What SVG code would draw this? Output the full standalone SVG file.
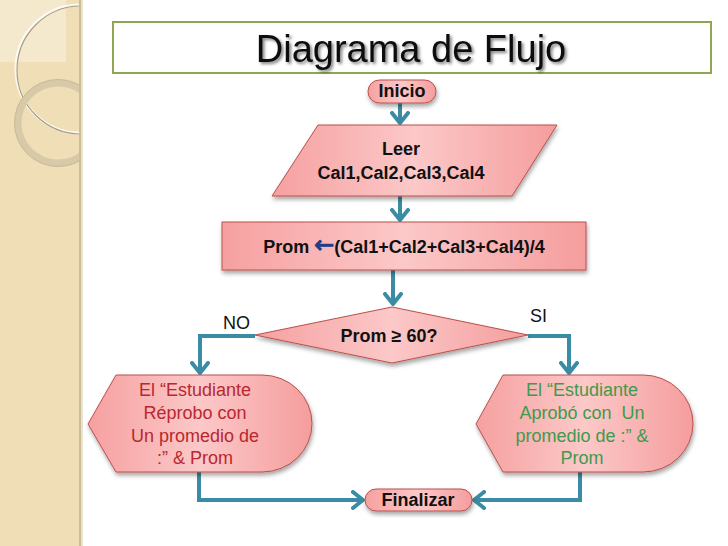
<svg xmlns="http://www.w3.org/2000/svg" width="728" height="546" viewBox="0 0 728 546">
<defs>
  <linearGradient id="pink" x1="0" y1="0" x2="1" y2="0">
    <stop offset="0" stop-color="#f6a0a0"/>
    <stop offset="0.5" stop-color="#fcc8c8"/>
    <stop offset="1" stop-color="#f59d9d"/>
  </linearGradient>
  <filter id="sh" x="-10%" y="-20%" width="120%" height="150%">
    <feDropShadow dx="1" dy="3" stdDeviation="2" flood-color="#000" flood-opacity="0.35"/>
  </filter>
  <filter id="tsh" x="-10%" y="-30%" width="120%" height="160%">
    <feDropShadow dx="2" dy="2" stdDeviation="1.5" flood-color="#000" flood-opacity="0.5"/>
  </filter>
  <clipPath id="strip"><rect x="0" y="0" width="80" height="546"/></clipPath>
  <marker id="ah" viewBox="0 0 14 20" refX="12" refY="10" markerWidth="14" markerHeight="20" markerUnits="userSpaceOnUse" orient="auto">
    <path d="M2,2 L12,10 L2,18" fill="none" stroke="#3a8ba4" stroke-width="4" stroke-linecap="round" stroke-linejoin="round"/>
  </marker>
  <style>
    .shape { fill: url(#pink); stroke: #b9504c; stroke-width: 1; filter: url(#sh); }
    .lbl { font-family: "Liberation Sans", Arial, sans-serif; font-size: 18px; font-weight: bold; fill: #111; text-anchor: middle; }
    .plain { font-family: "Liberation Sans", Arial, sans-serif; font-size: 18px; fill: #111; }
    .red { font-family: "Liberation Sans", Arial, sans-serif; font-size: 18px; fill: #b8282e; text-anchor: middle; }
    .green { font-family: "Liberation Sans", Arial, sans-serif; font-size: 18px; fill: #3f9a4c; text-anchor: middle; }
    .conn { fill: none; stroke: #3a8ba4; stroke-width: 4; marker-end: url(#ah); }
  </style>
</defs>

<rect width="728" height="546" fill="#ffffff"/>

<!-- left decorative strip -->
<g id="sidebar">
  <rect x="0" y="0" width="80" height="546" fill="#efdeb6"/>
  <rect x="0" y="0" width="66" height="62" fill="#f5e9cd"/>
  <g clip-path="url(#strip)">
    <circle cx="80" cy="69" r="64" fill="none" stroke="#ffffff" stroke-width="3" opacity="0.8"/>
    <circle cx="80" cy="69" r="64" fill="none" stroke="#a99c80" stroke-width="1.2" transform="translate(1,1)"/>
    <circle cx="58" cy="123" r="40" fill="none" stroke="#d8caa8" stroke-width="7"/>
    <circle cx="58" cy="123" r="43.5" fill="none" stroke="#c8b994" stroke-width="1"/>
  </g>
  <rect x="79" y="0" width="2" height="546" fill="#cdbd95"/>
  <rect x="81" y="0" width="2" height="546" fill="#e8e2d4"/>
</g>

<g id="title">
  <rect x="113" y="22" width="598" height="51" fill="#ffffff" stroke="#8ea64f" stroke-width="2"/>
  <text x="411" y="62" font-family="'Liberation Sans', Arial, sans-serif" font-size="38" fill="#111" text-anchor="middle" filter="url(#tsh)">Diagrama de Flujo</text>
</g>

<g id="connectors">
  <path class="conn" d="M400,103 V123"/>
  <path class="conn" d="M400,196 V220"/>
  <path class="conn" d="M393,270 V304"/>
  <path class="conn" d="M255,336 H200 V373"/>
  <path class="conn" d="M528,336 H569 V373"/>
  <path class="conn" d="M199,472 V500 H363"/>
  <path class="conn" d="M580,472 V500 H474"/>
</g>

<g id="inicio">
  <rect class="shape" x="368" y="80" width="68" height="23" rx="11.5"/>
  <text class="lbl" x="402" y="97" font-size="17">Inicio</text>
</g>

<g id="leer">
  <polygon class="shape" points="318,125 557,125 512,196 272,196"/>
  <text class="lbl" x="401" y="155">Leer</text>
  <text class="lbl" x="401" y="179">Cal1,Cal2,Cal3,Cal4</text>
</g>

<g id="prom">
  <rect class="shape" x="222" y="222" width="364" height="48"/>
  <text class="lbl" x="404" y="253">Prom <tspan fill="#1f3c88" stroke="#1f3c88" stroke-width="0.9" font-size="24" font-family="'DejaVu Sans', sans-serif" font-weight="normal">←</tspan>(Cal1+Cal2+Cal3+Cal4)/4</text>
</g>

<g id="decision">
  <polygon class="shape" points="255,335 392,307 528,335 392,363"/>
  <text class="lbl" x="389" y="342" font-size="17">Prom ≥ 60?</text>
  <text class="plain" x="223" y="329">NO</text>
  <text class="plain" x="530" y="322">SI</text>
</g>

<g id="reprobo">
  <path class="shape" d="M116,375 H262 A50,48.5 0 0 1 262,472 H116 L88,424 Z"/>
  <text class="red" x="195" y="396">El “Estudiante</text>
  <text class="red" x="195" y="419">Réprobo con</text>
  <text class="red" x="195" y="442">Un promedio de</text>
  <text class="red" x="195" y="464">:” &amp; Prom</text>
</g>

<g id="aprobo">
  <path class="shape" d="M503,375 H643 A50,48.5 0 0 1 643,472 H503 L476,424 Z"/>
  <text class="green" x="582" y="396">El “Estudiante</text>
  <text class="green" x="582" y="419" xml:space="preserve">Aprobó con  Un</text>
  <text class="green" x="582" y="442">promedio de :” &amp;</text>
  <text class="green" x="582" y="464">Prom</text>
</g>

<g id="finalizar">
  <rect class="shape" x="365" y="489" width="107" height="22" rx="11"/>
  <text class="lbl" x="418" y="506">Finalizar</text>
</g>
</svg>
